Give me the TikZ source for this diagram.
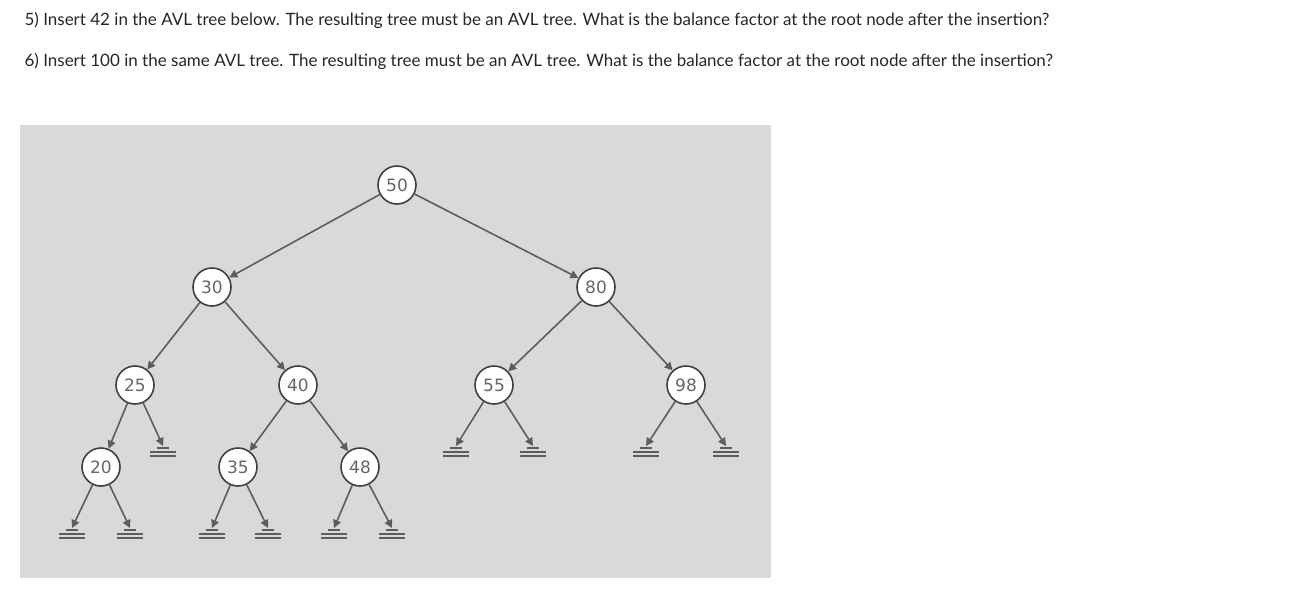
\documentclass[tikz,border=0pt]{standalone}
\usepackage{fontspec}
\setmainfont{Lato}
\setsansfont{DejaVu Sans}
\usetikzlibrary{arrows.meta}
\definecolor{bg}{HTML}{D9DAD8}
\definecolor{ink}{HTML}{404040}
\begin{document}
\begin{tikzpicture}[x=1pt,y=-1pt,
  tn/.style={circle,draw=ink,line width=1.6pt,fill=white,minimum size=38pt,inner sep=0pt,font=\sffamily\fontsize{17}{17}\selectfont,text=ink!80},
  ed/.style={draw=ink!85,line width=1.6pt,-{Triangle[length=8pt,width=8pt]}},
  nullm/.pic={\coordinate (-t) at (0,0);
    \draw[ink!85,line width=1.4pt] (-6,2)--(6,2) (-13,6)--(13,6) (-13,10)--(13,10);},
  q/.style={anchor=base west,font=\fontsize{17}{17}\selectfont,text=black!85}]
\useasboundingbox (0,0) rectangle (1304,603);
\node[q] (t1) at (21,25) {5) Insert 42 in the AVL tree below. The resulting tree must be an AVL tree. What is the balance factor at the root node after the insertion?};
\node[q] (t2) at (21,66) {6) Insert 100 in the same AVL tree. The resulting tree must be an AVL tree. What is the balance factor at the root node after the insertion?};
\fill[bg] (20,125) rectangle (771,578);
\node[tn] (n50) at (397,185) {50};
\node[tn] (n30) at (212,287) {30};
\node[tn] (n80) at (596,287) {80};
\node[tn] (n25) at (135,385) {25};
\node[tn] (n40) at (298,385) {40};
\node[tn] (n55) at (494,385) {55};
\node[tn] (n98) at (686,385) {98};
\node[tn] (n20) at (101,467) {20};
\node[tn] (n35) at (238,467) {35};
\node[tn] (n48) at (360,467) {48};
\pic (z1) at (163,446) {nullm};
\pic (z2) at (456,446) {nullm};
\pic (z3) at (533,446) {nullm};
\pic (z4) at (646,446) {nullm};
\pic (z5) at (726,446) {nullm};
\pic (z6) at (72,528) {nullm};
\pic (z7) at (130,528) {nullm};
\pic (z8) at (212,528) {nullm};
\pic (z9) at (268,528) {nullm};
\pic (z10) at (334,528) {nullm};
\pic (z11) at (392,528) {nullm};
\draw[ed] (n50) -- (n30);
\draw[ed] (n50) -- (n80);
\draw[ed] (n30) -- (n25);
\draw[ed] (n30) -- (n40);
\draw[ed] (n80) -- (n55);
\draw[ed] (n80) -- (n98);
\draw[ed] (n25) -- (n20);
\draw[ed] (n25) -- (z1-t);
\draw[ed] (n40) -- (n35);
\draw[ed] (n40) -- (n48);
\draw[ed] (n55) -- (z2-t);
\draw[ed] (n55) -- (z3-t);
\draw[ed] (n98) -- (z4-t);
\draw[ed] (n98) -- (z5-t);
\draw[ed] (n20) -- (z6-t);
\draw[ed] (n20) -- (z7-t);
\draw[ed] (n35) -- (z8-t);
\draw[ed] (n35) -- (z9-t);
\draw[ed] (n48) -- (z10-t);
\draw[ed] (n48) -- (z11-t);
\end{tikzpicture}
\end{document}
